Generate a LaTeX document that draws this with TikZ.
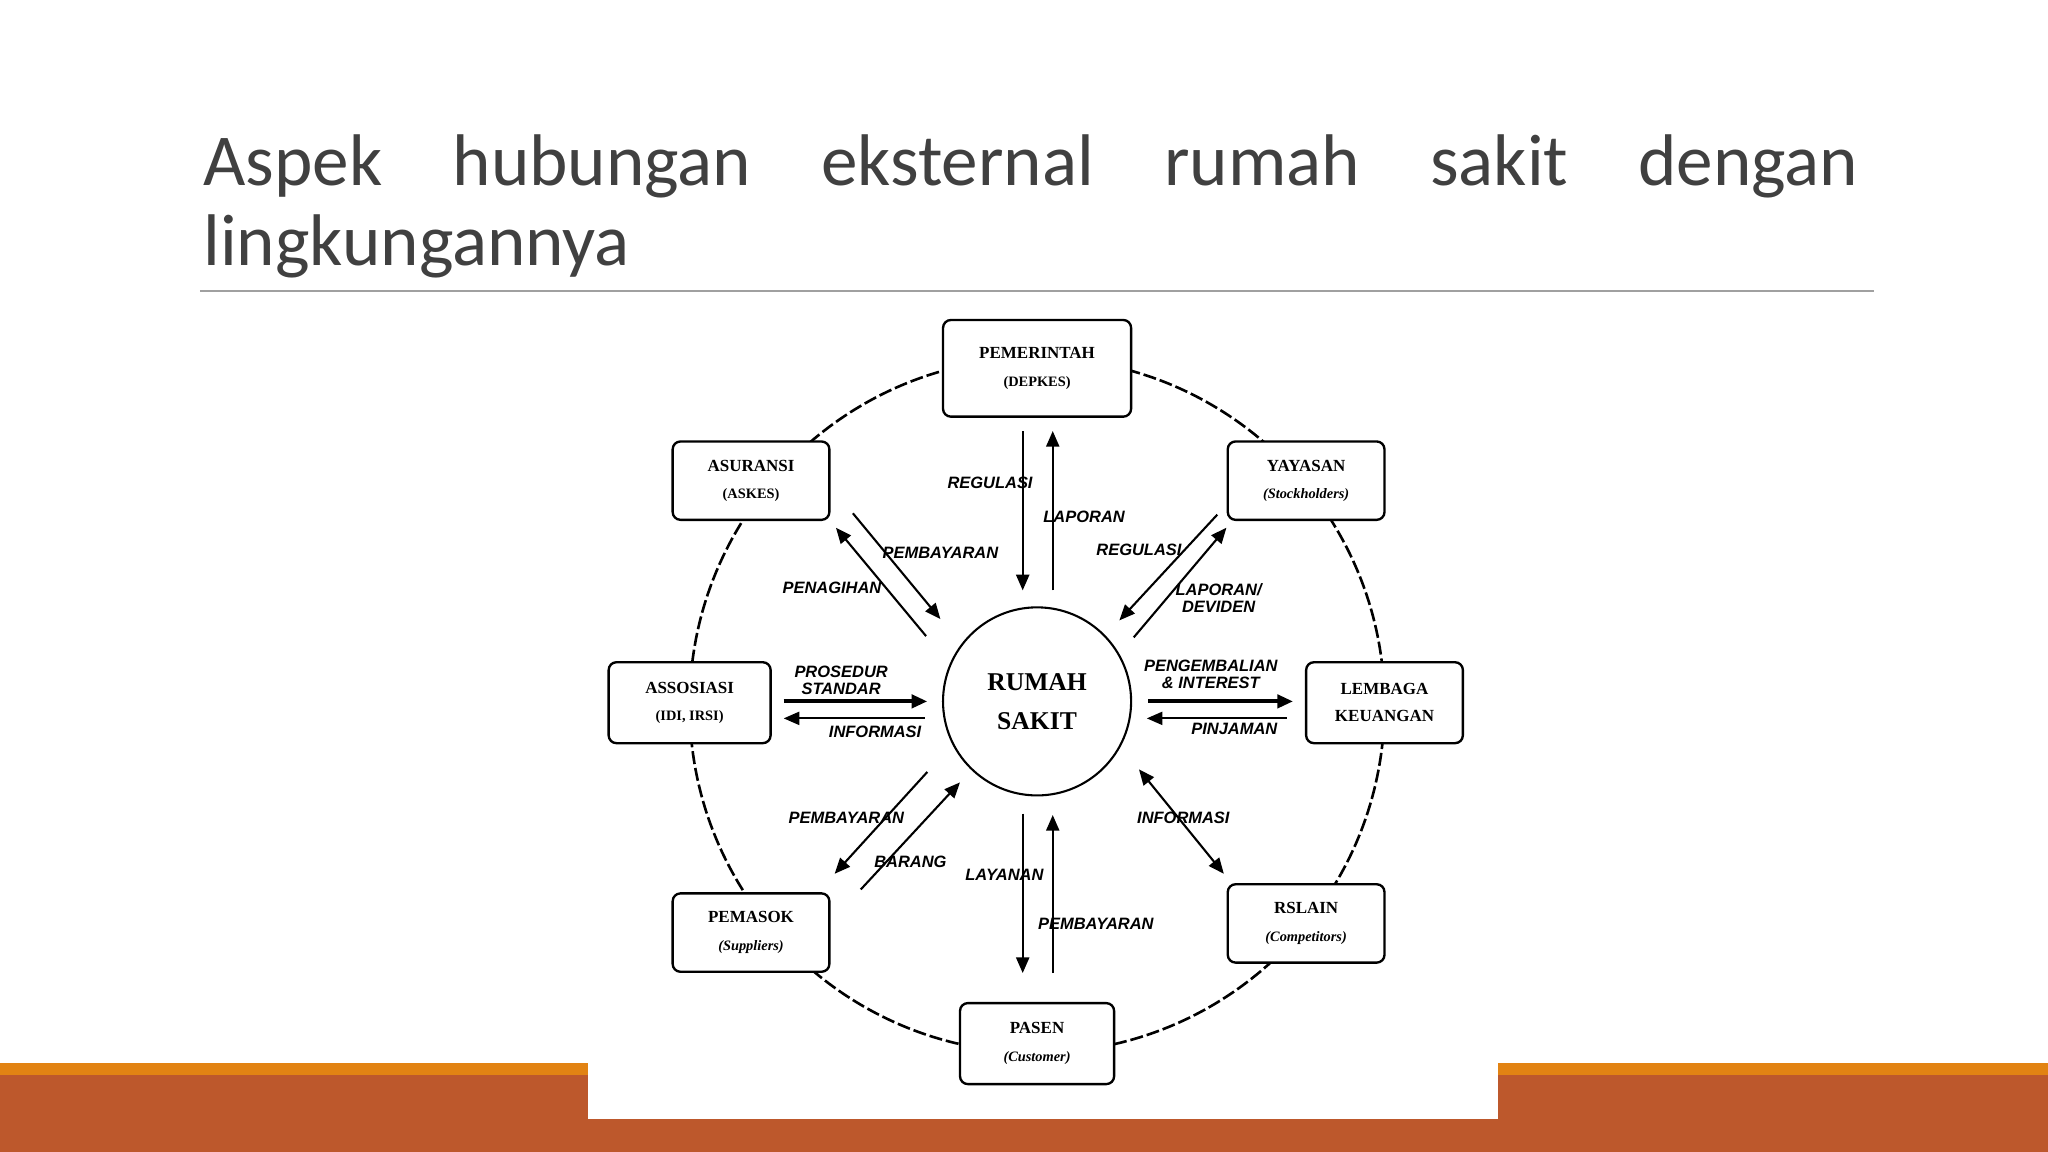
\documentclass[tikz,border=0pt]{standalone}
\usepackage{fontspec}
\setmainfont{Liberation Serif}
\setsansfont{Liberation Sans}
\newfontfamily\titlefont{Carlito}
\usetikzlibrary{arrows.meta}
\definecolor{barorange}{RGB}{226,131,19}
\definecolor{barred}{RGB}{189,88,44}
\definecolor{titlegray}{RGB}{64,64,64}
\definecolor{rulegray}{RGB}{160,160,160}
\newcommand{\boxsub}[1]{{\fontsize{5.5}{10.5}\selectfont #1}}

\begin{document}
\begin{tikzpicture}[x=0.5pt,y=-0.5pt,thick,every node/.style={inner sep=0pt},
    box/.style={draw,fill=white,line width=0.9pt,rounded corners=3pt,
      minimum width=60pt,minimum height=30pt,align=center,
      font=\fontsize{6.5}{10.5}\selectfont\bfseries},
    lbl/.style={font=\fontsize{6.3}{6.5}\selectfont\sffamily\bfseries\itshape},
    >={Triangle[length=6pt,width=5pt]}]
  \useasboundingbox(0,0)rectangle(1568,882);
  \fill[barorange](0,814)rectangle(1568,823);
  \fill[barred](0,823)rectangle(1568,882);
  \fill[white](450,228)rectangle(1147,857);
  \node[anchor=base west,font=\titlefont\fontsize{28}{30}\selectfont,text=titlegray]
    (title1) at (155,142)
    {\hbox to 633.5pt{Aspek\hfill hubungan\hfill eksternal\hfill rumah\hfill sakit\hfill dengan}};
  \node[anchor=base west,font=\titlefont\fontsize{28}{30}\selectfont,text=titlegray]
    (title2) at (155,203) {lingkungannya};
  \coordinate (rl) at (153,223);
  \coordinate (rr) at (1435,223);
  \draw[rulegray,line width=0.75pt](rl)--(rr);
  % ring and boxes
  \node[draw,circle,line width=1pt,dash pattern=on 5pt off 1.5pt,minimum size=266pt]
    (ring) at (794,540) {};
  \node[draw,circle,fill=white,line width=0.8pt,minimum size=72pt,align=center,
    font=\fontsize{9.8}{15}\selectfont\bfseries] (rs) at (794,537) {RUMAH\\SAKIT};
  \node[box,minimum width=72pt,minimum height=37pt] (pem) at (794,282)
    {PEMERINTAH\\\boxsub{(DEPKES)}};
  \node[box] (asu) at (575,368) {ASURANSI\\\boxsub{(ASKES)}};
  \node[box] (yay) at (1000,368) {YAYASAN\\\boxsub{\itshape(Stockholders)}};
  \node[box,minimum width=62pt,minimum height=31pt] (aso) at (528,538)
    {ASSOSIASI\\\boxsub{(IDI, IRSI)}};
  \node[box,minimum height=31pt] (lem) at (1060,538) {LEMBAGA\\KEUANGAN};
  \node[box] (pmk) at (575,714) {PEMASOK\\\boxsub{\itshape(Suppliers)}};
  \node[box] (rsl) at (1000,707) {RSLAIN\\\boxsub{\itshape(Competitors)}};
  \node[box,minimum width=59pt,minimum height=31pt] (pas) at (794,799)
    {PASEN\\\boxsub{\itshape(Customer)}};
  % arrow ends
  \coordinate (pem1) at (783,330); \coordinate (rs1) at (783,452);
  \coordinate (rs2) at (806,452); \coordinate (pem2) at (806,330);
  \coordinate (asu1) at (653,393); \coordinate (rs3) at (720,474);
  \coordinate (rs4) at (709,487); \coordinate (asu2) at (640,404);
  \coordinate (yay1) at (932,394); \coordinate (rs5) at (857,475);
  \coordinate (rs6) at (868,488); \coordinate (yay2) at (939,404);
  \coordinate (aso1) at (600,537); \coordinate (rs7) at (710,537);
  \coordinate (rs8) at (708,550); \coordinate (aso2) at (600,550);
  \coordinate (rs9) at (879,537); \coordinate (lem1) at (990,537);
  \coordinate (lem2) at (985,550); \coordinate (rs10) at (878,550);
  \coordinate (rs11) at (710,591); \coordinate (pmk1) at (639,669);
  \coordinate (pmk2) at (659,681); \coordinate (rs12) at (735,599);
  \coordinate (rs13) at (872,589); \coordinate (rsl1) at (937,669);
  \coordinate (rs14) at (783,623); \coordinate (pas1) at (783,745);
  \coordinate (pas2) at (806,745); \coordinate (rs15) at (806,624);
  \draw[->](pem1)--(rs1);
  \draw[->](rs2)--(pem2);
  \draw[->](asu1)--(rs3);
  \draw[->](rs4)--(asu2);
  \draw[->](yay1)--(rs5);
  \draw[->](rs6)--(yay2);
  \draw[->,line width=1.6pt](aso1)--(rs7);
  \draw[->](rs8)--(aso2);
  \draw[->,line width=1.6pt](rs9)--(lem1);
  \draw[->](lem2)--(rs10);
  \draw[->](rs11)--(pmk1);
  \draw[->](pmk2)--(rs12);
  \draw[<->](rs13)--(rsl1);
  \draw[->](rs14)--(pas1);
  \draw[->](pas2)--(rs15);
  % labels
  \node[lbl] (lreg1) at (758,370) {REGULASI};
  \node[lbl] (llap1) at (830,396) {LAPORAN};
  \node[lbl] (lbay1) at (720,423) {PEMBAYARAN};
  \node[lbl] (ltag) at (637,450) {PENAGIHAN};
  \node[lbl] (lreg2) at (872,421) {REGULASI};
  \node[lbl,align=center] (llap2) at (933,458) {LAPORAN/\\DEVIDEN};
  \node[lbl,align=center] (lpro) at (644,521) {PROSEDUR\\STANDAR};
  \node[lbl] (linf1) at (670,560) {INFORMASI};
  \node[lbl,align=center] (lkem) at (927,516) {PENGEMBALIAN\\\& INTEREST};
  \node[lbl] (lpin) at (945,558) {PINJAMAN};
  \node[lbl] (lbay2) at (648,626) {PEMBAYARAN};
  \node[lbl] (lbar) at (697,660) {BARANG};
  \node[lbl] (linf2) at (906,626) {INFORMASI};
  \node[lbl] (llay) at (769,670) {LAYANAN};
  \node[lbl] (lbay3) at (839,707) {PEMBAYARAN};
\end{tikzpicture}
\end{document}
